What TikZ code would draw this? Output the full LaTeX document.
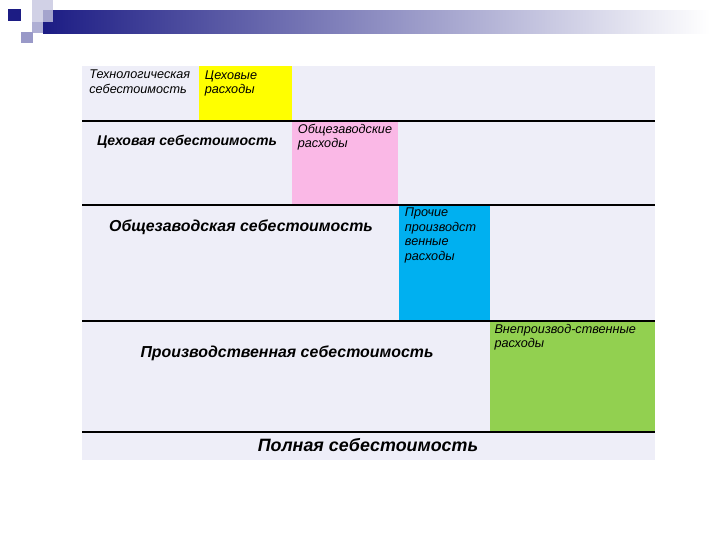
\documentclass[tikz,border=0pt]{standalone}
\usepackage{fontspec}
\setmainfont{Liberation Sans}
\usepackage{xcolor}
\usetikzlibrary{positioning, fit}
\definecolor{hdrblue}{HTML}{1C1C84}
\definecolor{hdrmid}{HTML}{A6A6C2}
\definecolor{rowbg}{HTML}{EEEEF8}
\definecolor{shopyellow}{HTML}{FFFF00}
\definecolor{plantpink}{HTML}{FAB8E6}
\definecolor{otherblue}{HTML}{00B0F0}
\definecolor{salesgreen}{HTML}{92D050}
\tikzset{
    area/.style={inner sep=0pt, outer sep=0pt, draw=none},
    small/.style={anchor=north west, align=left, inner sep=0pt, font=\fontsize{9}{10.3}\selectfont\itshape},
    big/.style={inner sep=0pt, font=\fontsize{#1}{13}\selectfont\bfseries\itshape},
    big/.default=11.3,
    rule/.style={black, line width=0.9pt}
}
\begin{document}
\begin{tikzpicture}[x=0.025cm, y=-0.025cm]
    \useasboundingbox (0,0) rectangle (720,540);
    % Header
    \shade[left color=hdrblue, middle color=hdrmid, right color=white] (43,10) rectangle (710,33);
    \fill[hdrblue!70!white, opacity=0.5] (32,22) rectangle (43,33);
    \fill[hdrblue!25!white, opacity=0.8] (32,0) rectangle (53,22);
    \fill[hdrblue] (8,9) rectangle (21,21);
    \fill[hdrblue!45!white] (21,32) rectangle (33,43);

    % Table
    \node[area, fill=rowbg, fit={(82,66) (655,460)}] (table) {};
    \node[area, fill=shopyellow, fit={(199,66) (292,121)}] (shop) {};
    \node[area, fill=plantpink, fit={(292,121) (398,205)}] (plant) {};
    \node[area, fill=otherblue, fit={(399,205) (490,321)}] (other) {};
    \node[area, fill=salesgreen, fit={(490,321) (655,432)}] (sales) {};

    % Rules
    \foreach \y in {121,205,321,432}
        \draw[rule] (table.west |- 0,\y) -- (table.east |- 0,\y);

    % Expenses
    \node[small] (techcost) at (89,70) {Технологическая\\себестоимость};
    \node[small, below right=3pt and 4pt of shop.north west, anchor=north west] (shoptxt) {Цеховые\\расходы};
    \node[small, below right=2pt and 4pt of plant.north west, anchor=north west] (planttxt) {Общезаводские\\расходы};
    \node[small, below right=2pt and 4pt of other.north west, anchor=north west] (othertxt) {Прочие\\производст\\венные\\расходы};
    \node[small, below right=2pt and 3pt of sales.north west, anchor=north west] (salestxt) {Внепроизвод-ственные\\расходы};

    % Costs
    \node[big=10] (shopcost) at (187,142) {Цеховая себестоимость};
    \node[big] (plantcost) at (241,227) {Общезаводская себестоимость};
    \node[big] (prodcost) at (287,353) {Производственная себестоимость};
    \node[big=12.7] (fullcost) at (368,445) {Полная себестоимость};
\end{tikzpicture}
\end{document}
